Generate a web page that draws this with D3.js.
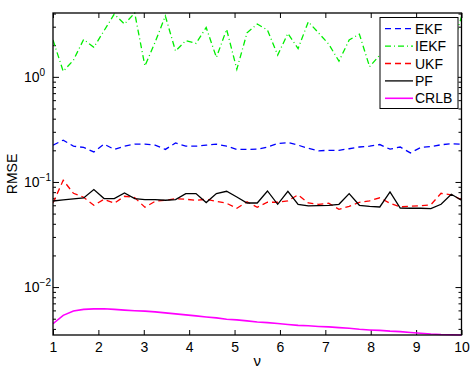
<!DOCTYPE html>
<html>
<head>
<meta charset="utf-8">
<script src="https://cdn.jsdelivr.net/npm/d3@7"></script>
<style>
  body { margin: 0; background: #fff; }
  svg { display: block; font-family: "Liberation Sans", Arial, Helvetica, sans-serif; }
</style>
</head>
<body>
<div id="chart"></div>
<script>
// data: nu = 1..10, 41 samples
const nu = d3.range(41).map(i => 1 + i * 0.225);

const ekf = [0.224, 0.250, 0.219, 0.213, 0.193, 0.229, 0.204, 0.219, 0.229, 0.229,
  0.224, 0.204, 0.235, 0.219, 0.219, 0.224, 0.229, 0.219, 0.204, 0.204,
  0.205, 0.215, 0.232, 0.237, 0.224, 0.209, 0.198, 0.200, 0.200, 0.207,
  0.215, 0.219, 0.227, 0.205, 0.215, 0.189, 0.213, 0.217, 0.226, 0.231, 0.229];

const iekf = [2.24, 1.13, 1.44, 2.27, 1.91, 2.75, 3.95, 3.18, 4.05, 1.27,
  2.14, 3.79, 1.76, 2.21, 2.08, 2.95, 1.53, 2.83, 1.18, 2.62,
  3.18, 2.79, 1.61, 2.59, 1.86, 3.34, 2.62, 2.05, 1.41, 2.24,
  2.55, 1.25, 1.61, 2.30, 1.60, 2.70, 1.90, 1.30, 2.50, 1.80, 3.74];

const ukf = [0.0631, 0.1038, 0.0780, 0.0715, 0.0600, 0.0684, 0.0627, 0.0731, 0.0710, 0.0574,
  0.0655, 0.0670, 0.0692, 0.0684, 0.0670, 0.0684, 0.0655, 0.0627, 0.0562, 0.0648,
  0.0574, 0.0641, 0.0641, 0.0662, 0.0755, 0.0631, 0.0613, 0.0627, 0.0550, 0.0587,
  0.0641, 0.0662, 0.0707, 0.0627, 0.0580, 0.0587, 0.0593, 0.0607, 0.0780, 0.0755, 0.0677];

const pf = [0.0659, 0.0674, 0.0689, 0.0704, 0.0847, 0.0695, 0.0695, 0.0786, 0.0695, 0.0680,
  0.0680, 0.0670, 0.0680, 0.0775, 0.0775, 0.0637, 0.0775, 0.0815, 0.0720, 0.0631,
  0.0631, 0.0821, 0.0613, 0.0815, 0.0613, 0.0591, 0.0596, 0.0600, 0.0613, 0.0775,
  0.0600, 0.0587, 0.0578, 0.0803, 0.0565, 0.0562, 0.0562, 0.0558, 0.0613, 0.0764, 0.0670];

const crlb = [0.00448, 0.00538, 0.00591, 0.00613, 0.00620, 0.00623, 0.00613, 0.00604, 0.00596, 0.00590,
  0.00581, 0.00568, 0.00556, 0.00544, 0.00532, 0.00520, 0.00509, 0.00495, 0.00487, 0.00477,
  0.00466, 0.00459, 0.00451, 0.00441, 0.00432, 0.00428, 0.00422, 0.00418, 0.00411, 0.00406,
  0.00397, 0.00391, 0.00387, 0.00381, 0.00377, 0.00370, 0.00364, 0.00358, 0.00354, 0.00352, 0.00350];

const xTicks = [1, 2, 3, 4, 5, 6, 7, 8, 9, 10];
const yMajor = [1e-2, 1e-1, 1e0];
const yMajorExp = ['\u22122', '\u22121', '0'];

const series = [
  { name: 'EKF', values: ekf, color: '#0000ff', dash: '6,4', width: 1.3 },
  { name: 'IEKF', values: iekf, color: '#00ee00', dash: '6,3,1,3', width: 1.3 },
  { name: 'UKF', values: ukf, color: '#ff0000', dash: '6,4', width: 1.3 },
  { name: 'PF', values: pf, color: '#000000', dash: null, width: 1.3 },
  { name: 'CRLB', values: crlb, color: '#ff00ff', dash: null, width: 1.6 }
];

// layout
const W = 474, H = 372;
const m = { left: 53, right: 461.5, top: 13, bottom: 335 };

const svg = d3.select('#chart').append('svg')
  .attr('width', W).attr('height', H);

const allVals = series.flatMap(s => s.values);
const x = d3.scaleLinear().domain([1, 10]).range([m.left, m.right]);
const y = d3.scaleLog().domain([d3.min(allVals), d3.max(allVals)]).range([m.bottom, m.top]);

// minor log ticks
const yMinor = [];
for (let e = -3; e <= 0; e++) {
  for (let k = 2; k <= 9; k++) {
    const v = k * Math.pow(10, e);
    if (v >= y.domain()[0] && v <= y.domain()[1]) yMinor.push(v);
  }
}

function styleAxis(g) {
  g.select('.domain').remove();
  g.selectAll('.tick line').attr('stroke', '#000').attr('stroke-width', 1);
}

// x axes (bottom with labels, top ticks only)
svg.append('g')
  .attr('transform', `translate(0,${m.bottom})`)
  .call(d3.axisBottom(x).tickValues(xTicks).tickSize(-5).tickPadding(7).tickFormat(d3.format('d')))
  .call(styleAxis)
  .call(g => g.selectAll('text').attr('font-size', 14).attr('fill', '#000'))
  .attr('font-family', null);

svg.append('g')
  .attr('transform', `translate(0,${m.top})`)
  .call(d3.axisTop(x).tickValues(xTicks).tickSize(-5).tickFormat(''))
  .call(styleAxis);

// y axes: major + minor, left and right
svg.append('g')
  .attr('transform', `translate(${m.left},0)`)
  .call(d3.axisLeft(y).tickValues(yMajor).tickSize(-6).tickFormat(''))
  .call(styleAxis);
svg.append('g')
  .attr('transform', `translate(${m.left},0)`)
  .call(d3.axisLeft(y).tickValues(yMinor).tickSize(-3).tickFormat(''))
  .call(styleAxis);
svg.append('g')
  .attr('transform', `translate(${m.right},0)`)
  .call(d3.axisRight(y).tickValues(yMajor).tickSize(-6).tickFormat(''))
  .call(styleAxis);
svg.append('g')
  .attr('transform', `translate(${m.right},0)`)
  .call(d3.axisRight(y).tickValues(yMinor).tickSize(-3).tickFormat(''))
  .call(styleAxis);

// y tick labels 10^k
const yLab = svg.append('g').selectAll('text')
  .data(yMajor)
  .enter().append('text')
  .attr('x', 24)
  .attr('y', d => y(d) + 5)
  .attr('font-size', 14)
  .attr('fill', '#000');
yLab.append('tspan').text('10');
yLab.append('tspan')
  .attr('dy', -6)
  .attr('font-size', 10)
  .text((d, i) => yMajorExp[i]);

// axis titles
svg.append('text')
  .attr('x', (m.left + m.right) / 2)
  .attr('y', 366)
  .attr('text-anchor', 'middle')
  .attr('font-size', 15)
  .text('\u03bd');

svg.append('text')
  .attr('transform', `translate(17,${(m.top + m.bottom) / 2}) rotate(-90)`)
  .attr('text-anchor', 'middle')
  .attr('font-size', 14)
  .text('RMSE');

// lines
svg.append('clipPath').attr('id', 'plot-clip')
  .append('rect')
  .attr('x', m.left).attr('y', m.top - 1)
  .attr('width', m.right - m.left).attr('height', m.bottom - m.top + 2);

const line = d3.line()
  .x((d, i) => x(nu[i]))
  .y(d => y(d));

const plot = svg.append('g').attr('clip-path', 'url(#plot-clip)');
series.forEach(s => {
  plot.append('path')
    .attr('d', line(s.values))
    .attr('fill', 'none')
    .attr('stroke', s.color)
    .attr('stroke-width', s.width)
    .attr('stroke-dasharray', s.dash);
});

// box
svg.append('rect')
  .attr('x', m.left).attr('y', m.top)
  .attr('width', m.right - m.left).attr('height', m.bottom - m.top)
  .attr('fill', 'none')
  .attr('stroke', '#000')
  .attr('stroke-width', 1.3);

// legend
const legend = svg.append('g');
legend.append('rect')
  .attr('x', 380).attr('y', 17.5)
  .attr('width', 78).attr('height', 91)
  .attr('fill', '#fff')
  .attr('stroke', '#000')
  .attr('stroke-width', 1);

const rows = legend.selectAll('g.row')
  .data(series)
  .enter().append('g')
  .attr('class', 'row')
  .attr('transform', (d, i) => `translate(0,${28.7 + i * 17.4})`);

rows.append('line')
  .attr('x1', 385).attr('x2', 413)
  .attr('stroke', d => d.color)
  .attr('stroke-width', d => d.width)
  .attr('stroke-dasharray', d => d.dash);

rows.append('text')
  .attr('x', 415)
  .attr('y', 5)
  .attr('font-size', 14)
  .text(d => d.name);
</script>
</body>
</html>
